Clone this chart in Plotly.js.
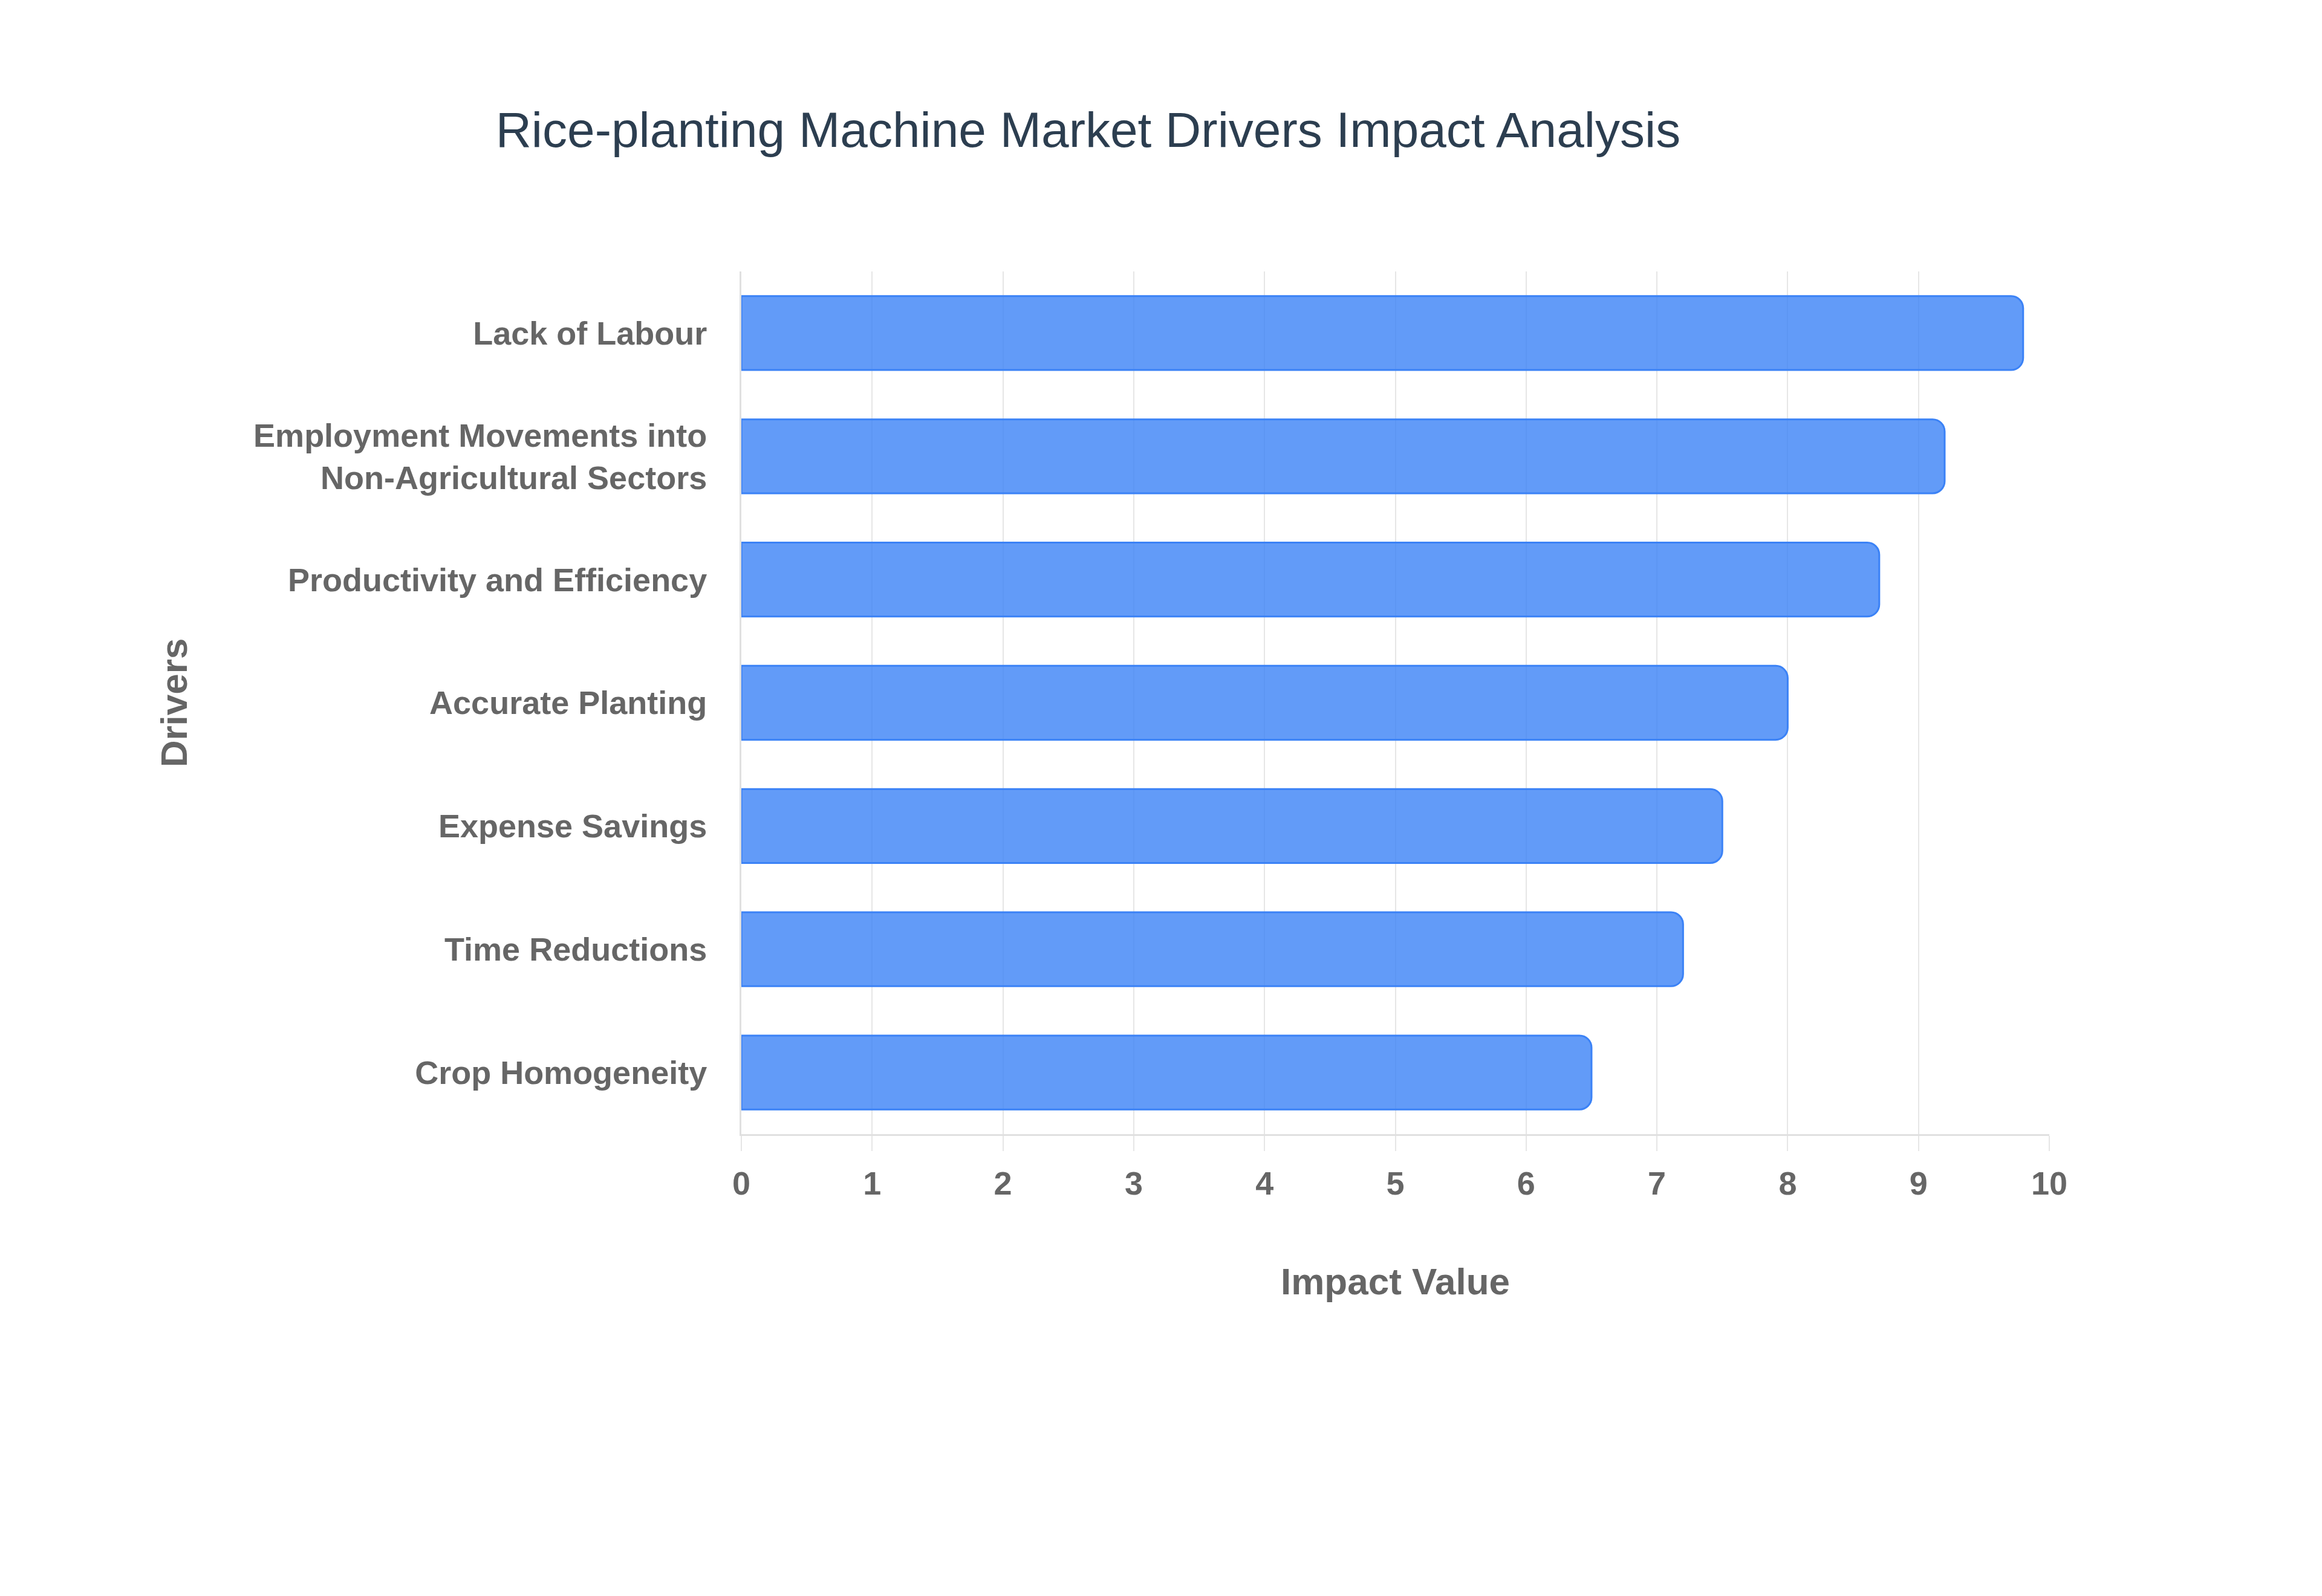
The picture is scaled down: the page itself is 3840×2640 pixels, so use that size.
<!DOCTYPE html>
<html>
<head>
<meta charset="utf-8">
<script src="https://cdn.plot.ly/plotly-3.0.1.min.js"></script>
<style>html,body{margin:0;padding:0;background:#fff;}#chart{width:3840px;height:2640px;}</style>
</head>
<body>
<div id="chart"></div>
<script>
const drivers = [
  "Crop Homogeneity",
  "Time Reductions",
  "Expense Savings",
  "Accurate Planting",
  "Productivity and Efficiency",
  "Employment Movements into<br>Non-Agricultural Sectors",
  "Lack of Labour"
];
const impactValues = [6.5, 7.2, 7.5, 8.0, 8.7, 9.2, 9.8];
const xTickValues = [0, 1, 2, 3, 4, 5, 6, 7, 8, 9, 10];

const trace = {
  type: "bar",
  orientation: "h",
  x: impactValues,
  y: drivers,
  marker: {
    color: "rgba(59,130,246,0.8)",
    line: { color: "rgb(59,130,246)", width: 3 },
    cornerradius: 20
  },
  hoverinfo: "x+y"
};

const labelFont = { family: "Liberation Sans, Arial, sans-serif", size: 54, color: "#666666", weight: "bold" };

const layout = {
  width: 3840,
  height: 2640,
  paper_bgcolor: "#ffffff",
  plot_bgcolor: "#ffffff",
  margin: { l: 1226, r: 451, t: 449, b: 764, autoexpand: false },
  bargap: 0.4,
  showlegend: false,
  title: {
    text: "Rice-planting Machine Market Drivers Impact Analysis",
    font: { family: "Liberation Sans, Arial, sans-serif", size: 82, color: "#2c3e50" },
    x: 0.4686, xanchor: "center",
    y: 0.919, yanchor: "middle"
  },
  xaxis: {
    range: [0, 10],
    tickvals: xTickValues,
    ticktext: xTickValues.map(String),
    showgrid: true,
    gridcolor: "#e6e6e6",
    gridwidth: 2,
    zeroline: false,
    showline: true,
    linecolor: "#e0e0e0",
    linewidth: 3,
    ticks: "outside",
    ticklen: 25,
    tickwidth: 2,
    tickcolor: "#e6e6e6",
    ticklabelstandoff: 7,
    tickfont: labelFont,
    automargin: false,
    title: {
      text: "Impact Value",
      font: { family: "Liberation Sans, Arial, sans-serif", size: 62, color: "#666666", weight: "bold" },
      standoff: 112
    }
  },
  yaxis: {
    type: "category",
    showgrid: false,
    zeroline: false,
    showline: true,
    linecolor: "#e0e0e0",
    linewidth: 3,
    ticks: "",
    ticklabelstandoff: 43,
    tickfont: labelFont,
    automargin: false,
    title: {
      text: "Drivers",
      font: { family: "Liberation Sans, Arial, sans-serif", size: 62, color: "#666666", weight: "bold" },
      standoff: 90
    }
  }
};

Plotly.newPlot("chart", [trace], layout, { displayModeBar: false, staticPlot: true });
</script>
</body>
</html>
